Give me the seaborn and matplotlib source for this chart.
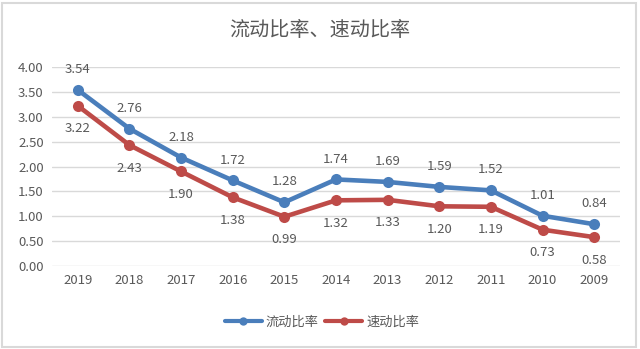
import matplotlib
matplotlib.use("Agg")
import matplotlib.pyplot as plt
import seaborn as sns
import pandas as pd
from matplotlib.patches import Rectangle

years = ["2019", "2018", "2017", "2016", "2015", "2014", "2013", "2012", "2011", "2010", "2009"]
current_ratio = [3.54, 2.76, 2.18, 1.72, 1.28, 1.74, 1.69, 1.59, 1.52, 1.01, 0.84]
quick_ratio = [3.22, 2.43, 1.90, 1.38, 0.99, 1.32, 1.33, 1.20, 1.19, 0.73, 0.58]
series_names = ["流动比率", "速动比率"]
y_ticks = [0.0, 0.5, 1.0, 1.5, 2.0, 2.5, 3.0, 3.5, 4.0]

sns.set_theme(style="white")
plt.rcParams["font.family"] = ["Noto Sans CJK SC", "DejaVu Sans"]

df = pd.DataFrame({
    "year": years * 2,
    "pos": list(range(len(years))) * 2,
    "value": current_ratio + quick_ratio,
    "series": [series_names[0]] * len(years) + [series_names[1]] * len(years),
})

blue = "#4A7EBB"
red = "#BE4B48"
text_c = "#595959"

fig = plt.figure(figsize=(6.4, 3.49), dpi=100)
fig.patch.set_facecolor("white")
ax = fig.add_axes([52 / 640, 1 - 266 / 349, 568 / 640, 199 / 349])

sns.lineplot(data=df, x="pos", y="value", hue="series", palette=[blue, red],
             marker="o", markersize=8, markeredgewidth=0, linewidth=3.3,
             ax=ax, legend=True)

ax.set_xlim(-0.5, len(years) - 0.5)
ax.set_ylim(0, 4.0)
ax.set_yticks(y_ticks)
ax.set_yticklabels([f"{t:.2f}" for t in y_ticks], color=text_c, fontsize=9.5)
ax.set_xticks(range(len(years)))
ax.set_xticklabels(years, color=text_c, fontsize=9.5)
ax.tick_params(axis="both", length=0, pad=6)
ax.set_xlabel("")
ax.set_ylabel("")
ax.grid(axis="y", color="#D9D9D9", linewidth=1)
ax.set_axisbelow(True)
for s in ax.spines.values():
    s.set_visible(False)

for i, v in enumerate(current_ratio):
    ax.annotate(f"{v:.2f}", (i, v), xytext=(0, 10), textcoords="offset points",
                ha="center", va="bottom", fontsize=9.5, color=text_c)
for i, v in enumerate(quick_ratio):
    ax.annotate(f"{v:.2f}", (i, v), xytext=(0, -12), textcoords="offset points",
                ha="center", va="top", fontsize=9.5, color=text_c)

leg = ax.legend(loc="upper center", bbox_to_anchor=(0.475, -0.19), ncol=2,
                frameon=False, fontsize=9.5, handlelength=2.8, columnspacing=0.5,
                handletextpad=0.3)
for t in leg.get_texts():
    t.set_color(text_c)
for h in leg.get_lines():
    h.set_markersize(6)
    h.set_linewidth(3)

fig.text(0.5, 1 - 30 / 349, "流动比率、速动比率", ha="center", va="center",
         fontsize=14.5, color=text_c)

fig.patches.append(Rectangle((2 / 640, 2 / 349), 634 / 640, 344 / 349,
                             transform=fig.transFigure, fill=False,
                             edgecolor="#D9D9D9", linewidth=1.5))

fig.savefig("out.png", dpi=100, facecolor="white")
